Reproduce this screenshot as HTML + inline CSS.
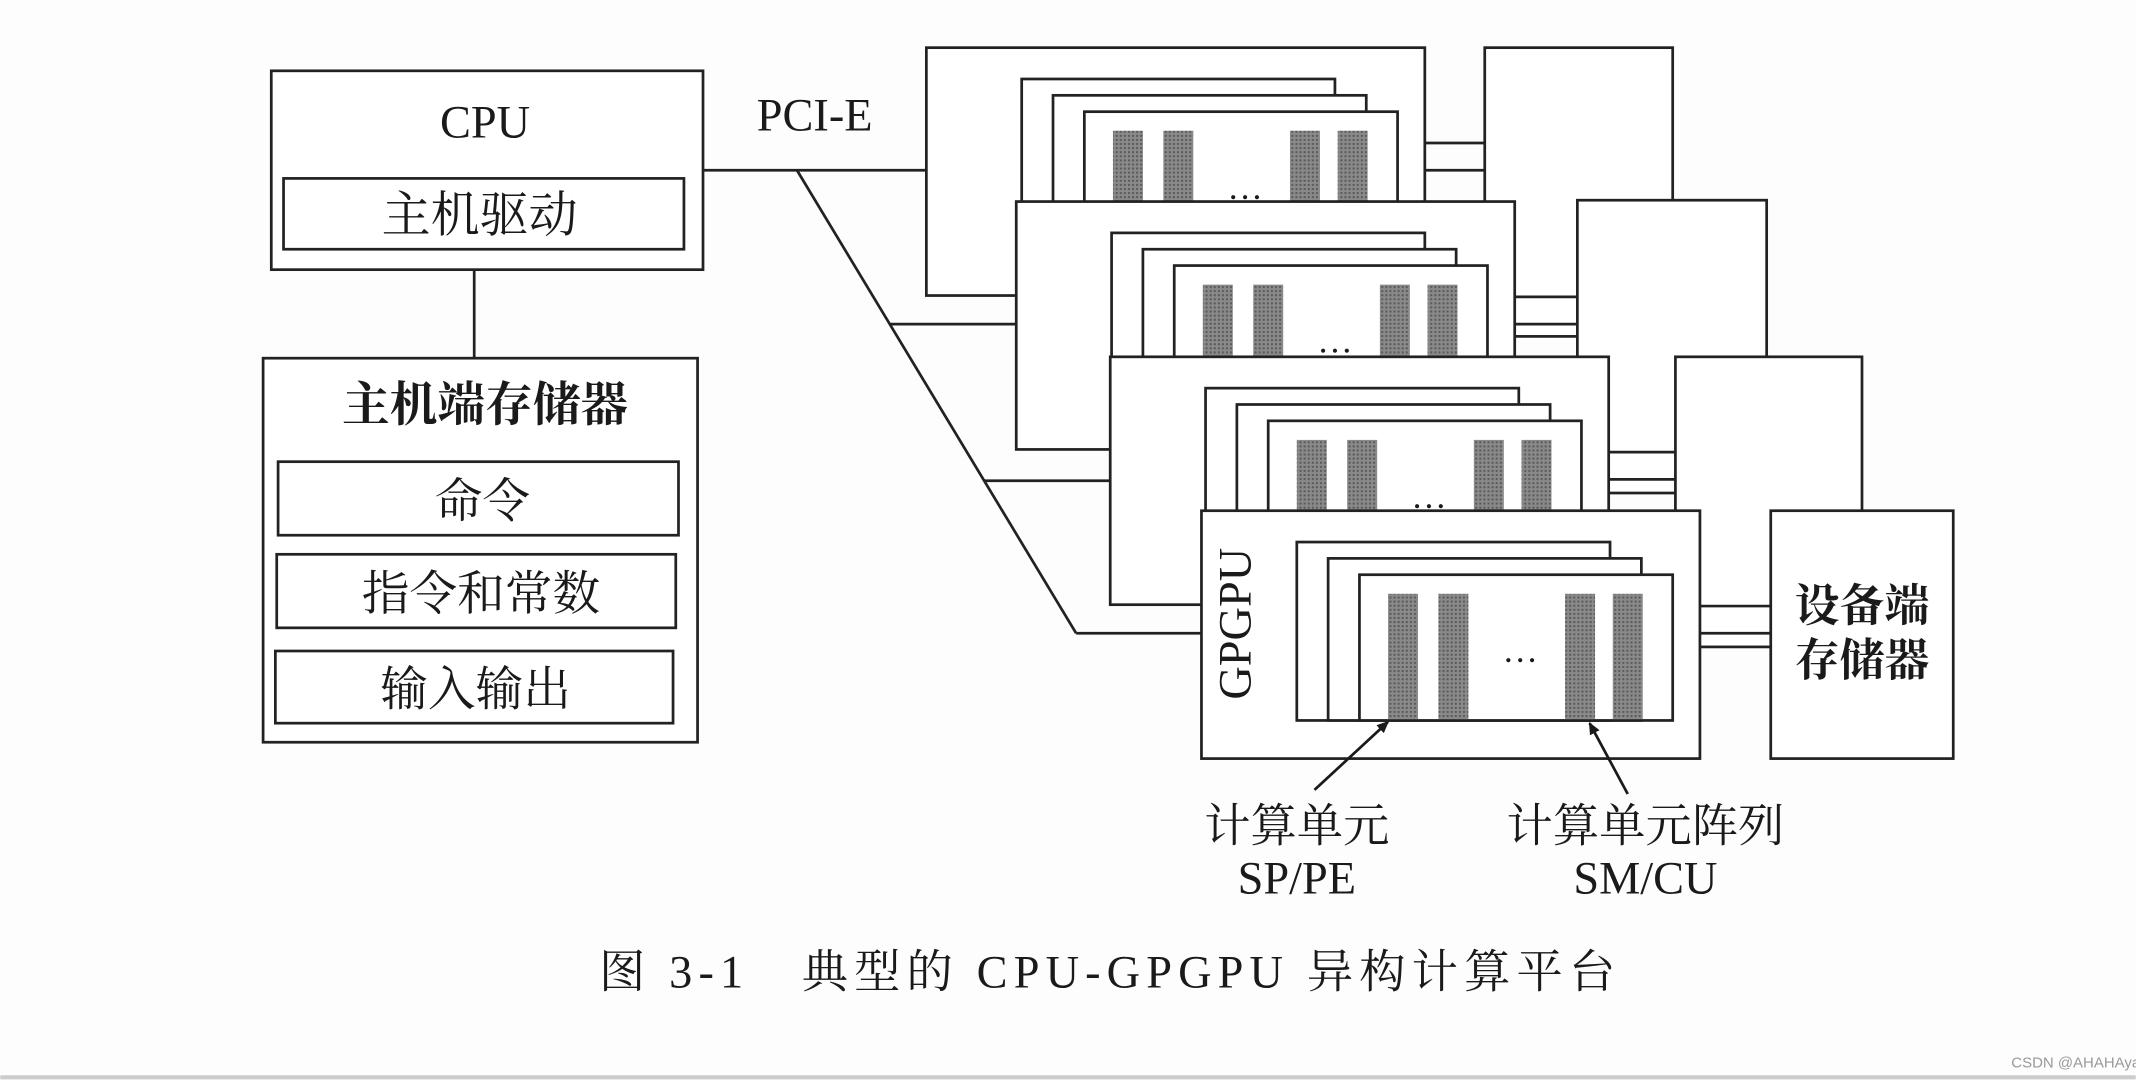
<!DOCTYPE html>
<html><head><meta charset="utf-8"><style>
html,body{margin:0;padding:0;background:#fff;}
svg{display:block}
text{font-family:"Liberation Serif","Noto Serif CJK SC",serif;fill:#1a1a1a}
</style></head><body>
<svg width="2136" height="1080" viewBox="0 0 1568 793" xmlns="http://www.w3.org/2000/svg">
<defs>
<pattern id="hatch" width="3" height="3" patternUnits="userSpaceOnUse">
<rect width="3" height="3" fill="#8a8a8a"/><rect width="1.5" height="1.5" fill="#5a5a5a"/>
</pattern>
<marker id="ah" markerWidth="10" markerHeight="10" refX="8" refY="5" orient="auto" markerUnits="userSpaceOnUse"><path d="M0,1 L9,5 L0,9 Z" fill="#1a1a1a"/></marker>
</defs>
<rect width="1568" height="793" fill="#fdfdfd"/>
<g stroke="#222" stroke-width="2" fill="#fff">
<rect x="199" y="52" width="317" height="146"/>
<rect x="208" y="131" width="294" height="52"/>
<line x1="348" y1="198" x2="348" y2="263"/>
<rect x="193" y="263" width="319" height="282"/>
<rect x="204" y="339" width="294" height="54"/>
<rect x="203" y="407" width="293" height="54"/>
<rect x="202" y="478" width="292" height="53"/>
<line x1="516" y1="125" x2="680" y2="125"/>
<line x1="585" y1="125" x2="790" y2="465"/>
<line x1="653" y1="238" x2="748" y2="238"/>
<line x1="722" y1="353" x2="815" y2="353"/>
<line x1="790" y1="465" x2="882" y2="465"/>
</g>
<g stroke="#222" stroke-width="2" fill="#fff" id="layers"></g>
<g font-size="34" text-anchor="middle">
<text x="356" y="101">CPU</text>
<text x="352" y="170" font-size="36">主机驱动</text>
<text x="356" y="309" font-size="35" font-weight="bold">主机端存储器</text>
<text x="354" y="380" font-size="35">命令</text>
<text x="353" y="448" font-size="35">指令和常数</text>
<text x="349" y="518" font-size="35">输入输出</text>
<text x="598" y="96">PCI-E</text>
<text x="1367" y="456" font-size="33" font-weight="bold">设备端</text>
<text x="1367" y="496" font-size="33" font-weight="bold">存储器</text>
<text x="952" y="618" font-size="34">计算单元</text>
<text x="952" y="656">SP/PE</text>
<text x="1208" y="618" font-size="34">计算单元阵列</text>
<text x="1208" y="656">SM/CU</text>
<text x="815" y="725" font-size="34" letter-spacing="4.5">图 3-1　典型的 CPU-GPGPU 异构计算平台</text>
<text x="918" y="458" transform="rotate(-90 918 458)">GPGPU</text>
</g>
<text x="1527" y="784" font-size="11" text-anchor="middle" style="font-family:'Liberation Sans',sans-serif;fill:#999">CSDN @AHAHAya_</text>
<line x1="0" y1="791" x2="1568" y2="791" stroke="#ccc" stroke-width="3"/>
<g stroke="#1a1a1a" stroke-width="2" marker-end="url(#ah)">
<line x1="965" y1="580" x2="1019" y2="530"/>
<line x1="1195" y1="583" x2="1167" y2="531"/>
</g>
<script>
const g=document.getElementById('layers');const ns='http://www.w3.org/2000/svg';
function r(x,y,w,h,f){const e=document.createElementNS(ns,'rect');e.setAttribute('x',x);e.setAttribute('y',y);e.setAttribute('width',w);e.setAttribute('height',h);if(f){e.setAttribute('fill',f);e.setAttribute('stroke','none');}g.appendChild(e);}
function l(x1,y1,x2,y2){const e=document.createElementNS(ns,'line');e.setAttribute('x1',x1);e.setAttribute('y1',y1);e.setAttribute('x2',x2);e.setAttribute('y2',y2);g.appendChild(e);}
function t(x,y,s){const e=document.createElementNS(ns,'text');e.setAttribute('x',x);e.setAttribute('y',y);e.setAttribute('font-size','26');e.setAttribute('stroke','none');e.setAttribute('fill','#1a1a1a');e.setAttribute('text-anchor','middle');e.textContent=s;g.appendChild(e);}
const boards=[[680,35],[746,148],[815,262],[882,375]];
const mems=[[1090,35,138],[1158,147,139],[1230,262,137],[1300,375,134]];
boards.forEach((b,i)=>{
 const [bx,by]=b;const W=366,H=182;
 r(bx,by,W,H);
 const m=mems[i];const mh=i==3?182:(mems[i+1][1]-m[1]+100);
 r(m[0],m[1],m[2],mh);
 l(bx+W,by+70,m[0],by+70);l(bx+W,by+90,m[0],by+90);
 const cb=by+H-28;
 [[70,23],[93,35],[116,47]].forEach(o=>{r(bx+o[0],by+o[1],230,cb-(by+o[1]));});
 const fx=bx+116,fy=by+47;
 [21,58,151,186].forEach(d=>r(fx+d,fy+14,22,cb-fy-15,'url(#hatch)'));
 t(fx+118,fy+64,'…');
});
</script>
</svg>
</body></html>
